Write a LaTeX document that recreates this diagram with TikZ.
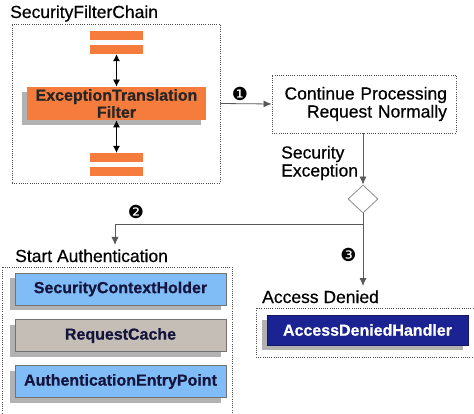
\documentclass[tikz,border=0pt]{standalone}
\usepackage{fontspec}
\setmainfont[FakeBold=0.5]{Liberation Sans}
\newfontfamily\dingfont{DejaVu Sans}
\usetikzlibrary{arrows.meta,shapes.geometric,shadows}
\definecolor{filterorange}{HTML}{F57C3C}
\definecolor{compblue}{HTML}{80BCF6}
\definecolor{compgray}{HTML}{C4BEB6}
\definecolor{compnavy}{HTML}{1A2391}
\definecolor{compink}{HTML}{14143C}

\begin{document}
\begin{tikzpicture}[x=1pt, y=-1pt,
  every node/.style={font=\fontsize{17.5}{18}\selectfont},
  title/.style={anchor=base west, inner sep=0pt},
  chain/.style={draw=black!70, line width=0.9pt, dash pattern=on 1pt off 1.2pt, inner sep=0pt},
  bar/.style={fill=filterorange, minimum width=53pt, minimum height=9pt, inner sep=0pt},
  comp/.style={draw=black!55, line width=0.8pt, minimum width=211pt, minimum height=32pt, inner sep=0pt,
    font=\fontsize{16}{18}\selectfont\bfseries, text=compink,
    drop shadow={shadow xshift=-5pt, shadow yshift=-5pt, fill=black!30, opacity=1}},
  num/.style={font=\dingfont\fontsize{18}{18}\selectfont, inner sep=0pt},
  flow/.style={draw=black!65, line width=0.8pt, -{Latex[length=8pt,width=7pt]}},
  link/.style={draw=black, line width=0.8pt, {Latex[length=7pt,width=7pt]}-{Latex[length=7pt,width=7pt]}}]
  \useasboundingbox (0,0) rectangle (474,414);

  \node[title] (sfctitle) at (10,18) {SecurityFilterChain};
  \node[chain, minimum width=208pt, minimum height=159pt] (sfc) at (116,103.5) {};
  \node[bar] (b1) at (116.5,35.5) {};
  \node[bar] (b2) at (116.5,49.5) {};
  \node[comp, fill=filterorange, draw=none, minimum width=179pt, minimum height=33pt, align=center,
        text=black!85, font=\fontsize{16}{17}\selectfont\bfseries] (etf) at (116.5,103.5) {ExceptionTranslation\\Filter};
  \node[bar] (b3) at (116.5,157.5) {};
  \node[bar] (b4) at (116.5,171.5) {};
  \draw[link] (b2) -- (etf);
  \draw[link] (etf) -- (b3);

  \node[chain, minimum width=184pt, minimum height=58pt, text width=166pt, align=right] (cont) at (364,104) {Continue Processing\\Request Normally};
  \draw[flow] (sfc.east) -- node[num, above=3pt, pos=0.38] {❶} (cont.west);

  \node[anchor=west, align=left, inner sep=0pt] (secex) at (281,163) {Security\\Exception};
  \node[diamond, aspect=1.07, draw=black!45, line width=0.8pt, minimum width=30pt, minimum height=28pt, inner sep=0pt] (dec) at (363,199) {};
  \draw[flow] (cont.south -| dec.north) -- (dec.north);

  \coordinate (turn) at (115,224);
  \coordinate (sain) at (115,245);
  \coordinate (adin) at (363,286);
  \draw[flow] (dec.south) |- (turn) -- (sain);
  \draw[flow] (dec.south) -- (adin);
  \node[num] (n2) at (136,211.5) {❷};
  \node[num] (n3) at (348.5,255) {❸};

  \node[title] (satitle) at (15,262) {Start Authentication};
  \node[chain, minimum width=230pt, minimum height=160pt] (sa) at (117,347) {};
  \node[comp, fill=compblue] (sch) at (120.5,289) {SecurityContextHolder};
  \node[comp, fill=compgray] (rc) at (120.5,335.5) {RequestCache};
  \node[comp, fill=compblue] (aep) at (120.5,381.5) {AuthenticationEntryPoint};

  \node[title] (adtitle) at (262,303) {Access Denied};
  \node[chain, minimum width=224pt, minimum height=49pt] (ad) at (368,332.5) {};
  \node[comp, fill=compnavy, draw=compnavy!70!black, text=white, minimum width=201pt, minimum height=30pt] (adh) at (367.5,330) {AccessDeniedHandler};
\end{tikzpicture}
\end{document}
